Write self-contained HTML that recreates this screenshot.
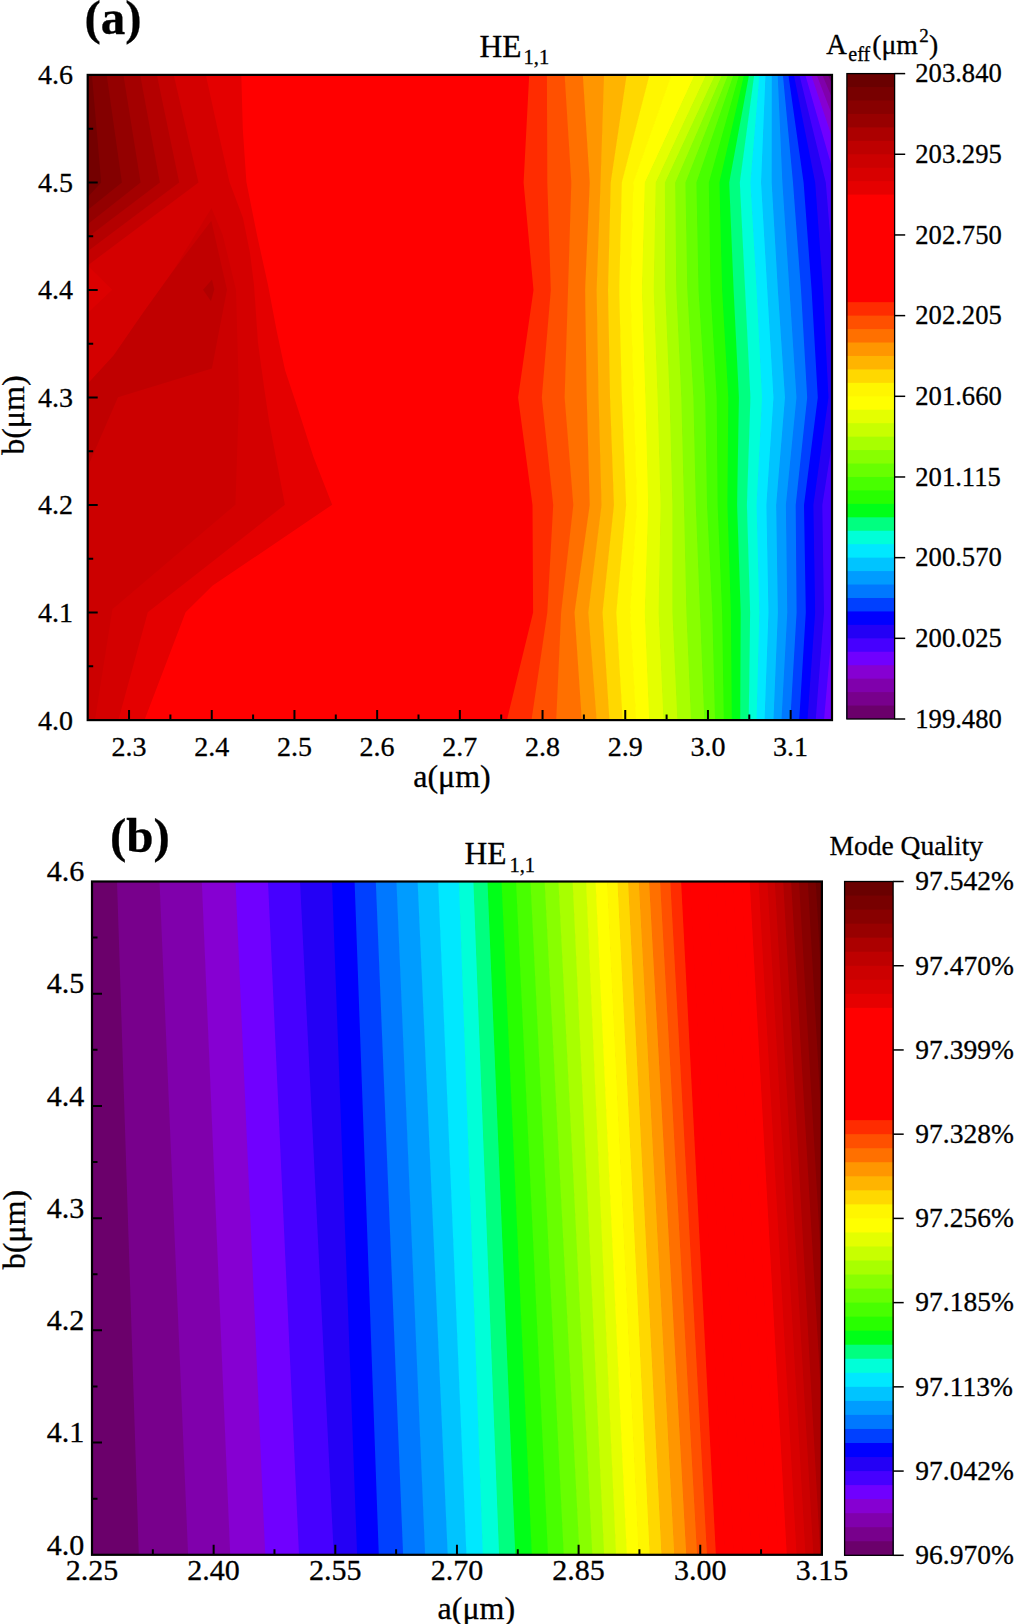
<!DOCTYPE html>
<html lang="en"><head><meta charset="utf-8"><title>HE1,1 contour plots</title>
<style>html,body{margin:0;padding:0;background:#fff}svg{display:block}text{stroke:#000;stroke-width:.3px}</style>
</head><body>
<svg width="1015" height="1624" viewBox="0 0 1015 1624" font-family='"Liberation Serif", "DejaVu Serif", serif' fill="#000">
<rect width="1015" height="1624" fill="#fff"/>
<g id="plotA">
<clipPath id="clipA"><rect x="87.7" y="74.9" width="744.3" height="645.2"/></clipPath>
<g clip-path="url(#clipA)">
<rect x="87.7" y="74.9" width="744.3" height="645.2" fill="#FF0000"/>
<polygon points="87.7,74.9 241.3,74.6 242.8,129.0 246.4,182.1 257.0,235.0 268.0,285.0 276.5,330.0 285.0,370.0 297.0,406.0 313.3,456.5 332.2,504.7 212.4,585.8 185.6,612.3 144.6,719.8 87.7,720.1" fill="#E40000"/>
<polygon points="87.7,74.9 205.8,74.6 217.6,129.0 229.5,182.1 243.0,218.0 250.0,253.0 254.0,285.0 258.0,343.0 264.0,386.7 269.2,421.9 284.9,504.7 147.8,612.3 118.5,719.8 87.7,720.1" fill="#D40000"/>
<polygon points="87.7,265.4 112.2,289.7 87.7,313.0" fill="#DC0000"/>
<polygon points="211.5,208.0 222.7,235.0 236.0,289.7 239.0,397.2 235.4,504.7 112.4,609.3 95.0,719.8 87.7,720.1 87.7,383.7 113.6,355.6 143.1,312.8 172.7,271.4" fill="#CC0000"/>
<polygon points="211.3,220.7 227.0,289.7 211.9,368.5 118.0,397.2 99.2,440.6 87.7,467.0 87.7,383.7 113.6,355.6 143.1,312.8 172.7,271.4" fill="#C00000"/>
<polygon points="203.0,289.7 212.0,279.5 214.3,289.2 211.0,301.3" fill="#B00000"/>
<polygon points="87.7,74.9 173.7,74.9 198.5,182.4 87.7,265.4" fill="#C40000"/>
<polygon points="87.7,74.9 156.9,74.9 179.2,182.4 87.7,251.3" fill="#B40000"/>
<polygon points="87.7,74.9 140.2,74.9 159.9,182.4 87.7,237.2" fill="#A40000"/>
<polygon points="87.7,74.9 123.4,74.9 140.6,182.4 87.7,224.2" fill="#940000"/>
<polygon points="87.7,74.9 106.7,74.9 121.9,182.4 87.7,210.1" fill="#840000"/>
<polygon points="87.7,74.9 91.9,74.9 101.2,182.4 87.7,197.0" fill="#740000"/>
<polygon points="529.2,74.9 523.6,182.4 533.5,290.0 518.1,397.5 532.5,505.0 533.1,612.6 506.9,720.1 532.2,720.1 548.0,612.6 553.9,505.0 542.5,397.5 551.5,290.0 548.0,182.4 547.6,74.9" fill="#FF2C00"/>
<polygon points="546.9,74.9 547.3,182.4 550.8,290.0 541.8,397.5 553.2,505.0 547.3,612.6 531.5,720.1 556.9,720.1 561.8,612.6 574.0,505.0 565.3,397.5 568.7,290.0 572.0,182.4 565.3,74.9" fill="#FF5000"/>
<polygon points="564.6,74.9 571.3,182.4 568.0,290.0 564.6,397.5 573.3,505.0 561.1,612.6 556.2,720.1 582.5,720.1 575.2,612.6 590.4,505.0 587.4,397.5 585.8,290.0 590.4,182.4 583.5,74.9" fill="#FF7000"/>
<polygon points="582.8,74.9 589.7,182.4 585.1,290.0 586.7,397.5 589.7,505.0 574.5,612.6 581.8,720.1 597.3,720.1 589.0,612.6 602.2,505.0 599.2,397.5 597.3,290.0 601.2,182.4 604.7,74.9" fill="#FF9600"/>
<polygon points="604.0,74.9 600.5,182.4 596.6,290.0 598.5,397.5 601.5,505.0 588.3,612.6 596.6,720.1 610.1,720.1 603.2,612.6 614.6,505.0 610.7,397.5 608.7,290.0 611.4,182.4 627.3,74.9" fill="#FFB400"/>
<polygon points="626.6,74.9 610.7,182.4 608.0,290.0 610.0,397.5 613.9,505.0 602.5,612.6 609.4,720.1 623.3,720.1 617.0,612.6 626.8,505.0 622.5,397.5 619.9,290.0 622.5,182.4 650.1,74.9" fill="#FFD800"/>
<polygon points="649.4,74.9 621.8,182.4 619.2,290.0 621.8,397.5 626.1,505.0 616.3,612.6 622.6,720.1 636.7,720.1 630.7,612.6 637.6,505.0 634.3,397.5 631.1,290.0 634.0,182.4 672.1,74.9" fill="#FFF600"/>
<polygon points="671.4,74.9 633.3,182.4 630.4,290.0 633.6,397.5 636.9,505.0 630.0,612.6 636.0,720.1 649.9,720.1 645.5,612.6 648.9,505.0 646.1,397.5 642.6,290.0 645.5,182.4 695.2,74.9" fill="#FFFF00"/>
<polygon points="694.5,74.9 644.8,182.4 641.9,290.0 645.4,397.5 648.2,505.0 644.8,612.6 649.2,720.1 664.2,720.1 659.3,612.6 661.3,505.0 658.3,397.5 654.4,290.0 656.4,182.4 706.7,74.9" fill="#E4FF00"/>
<polygon points="706.0,74.9 655.7,182.4 653.7,290.0 657.6,397.5 660.6,505.0 658.6,612.6 663.5,720.1 678.1,720.1 673.1,612.6 673.1,505.0 670.3,397.5 665.9,290.0 665.6,182.4 715.7,74.9" fill="#C8FF00"/>
<polygon points="715.0,74.9 664.9,182.4 665.2,290.0 669.6,397.5 672.4,505.0 672.4,612.6 677.4,720.1 691.7,720.1 687.1,612.6 684.7,505.0 682.0,397.5 677.0,290.0 675.9,182.4 722.7,74.9" fill="#A8FF00"/>
<polygon points="722.0,74.9 675.2,182.4 676.3,290.0 681.3,397.5 684.0,505.0 686.4,612.6 691.0,720.1 705.0,720.1 700.7,612.6 696.5,505.0 694.1,397.5 688.0,290.0 686.1,182.4 728.7,74.9" fill="#88FF00"/>
<polygon points="728.0,74.9 685.4,182.4 687.3,290.0 693.4,397.5 695.8,505.0 700.0,612.6 704.3,720.1 715.7,720.1 713.0,612.6 707.7,505.0 705.9,397.5 699.2,290.0 697.1,182.4 734.2,74.9" fill="#68FF00"/>
<polygon points="733.5,74.9 696.4,182.4 698.5,290.0 705.2,397.5 707.0,505.0 712.3,612.6 715.0,720.1 724.5,720.1 722.8,612.6 718.3,505.0 717.4,397.5 711.2,290.0 709.5,182.4 739.7,74.9" fill="#48FF00"/>
<polygon points="739.0,74.9 708.8,182.4 710.5,290.0 716.7,397.5 717.6,505.0 722.1,612.6 723.8,720.1 732.5,720.1 731.6,612.6 728.1,505.0 729.0,397.5 722.8,290.0 720.1,182.4 744.7,74.9" fill="#28FF00"/>
<polygon points="744.0,74.9 719.4,182.4 722.1,290.0 728.3,397.5 727.4,505.0 730.9,612.6 731.8,720.1 740.9,720.1 741.4,612.6 737.8,505.0 739.6,397.5 734.3,290.0 729.9,182.4 749.7,74.9" fill="#00FF18"/>
<polygon points="749.0,74.9 729.2,182.4 733.6,290.0 738.9,397.5 737.1,505.0 740.7,612.6 740.2,720.1 749.4,720.1 750.8,612.6 747.6,505.0 751.1,397.5 745.8,290.0 740.5,182.4 754.9,74.9" fill="#00FF80"/>
<polygon points="754.2,74.9 739.8,182.4 745.1,290.0 750.4,397.5 746.9,505.0 750.1,612.6 748.7,720.1 757.3,720.1 760.0,612.6 757.3,505.0 762.7,397.5 757.3,290.0 751.1,182.4 760.1,74.9" fill="#00FFD8"/>
<polygon points="759.4,74.9 750.4,182.4 756.6,290.0 762.0,397.5 756.6,505.0 759.3,612.6 756.6,720.1 765.3,720.1 769.2,612.6 767.1,505.0 774.2,397.5 768.0,290.0 761.8,182.4 766.2,74.9" fill="#00E8FF"/>
<polygon points="765.5,74.9 761.1,182.4 767.3,290.0 773.5,397.5 766.4,505.0 768.5,612.6 764.6,720.1 774.2,720.1 778.6,612.6 776.9,505.0 785.7,397.5 778.6,290.0 772.4,182.4 772.5,74.9" fill="#00C4FF"/>
<polygon points="771.8,74.9 771.7,182.4 777.9,290.0 785.0,397.5 776.2,505.0 777.9,612.6 773.5,720.1 782.2,720.1 788.0,612.6 786.6,505.0 797.2,397.5 790.2,290.0 783.1,182.4 778.4,74.9" fill="#009CFF"/>
<polygon points="777.7,74.9 782.4,182.4 789.5,290.0 796.5,397.5 785.9,505.0 787.3,612.6 781.5,720.1 791.0,720.1 797.3,612.6 796.4,505.0 807.9,397.5 801.7,290.0 793.7,182.4 783.6,74.9" fill="#0078FF"/>
<polygon points="782.9,74.9 793.0,182.4 801.0,290.0 807.2,397.5 795.7,505.0 796.6,612.6 790.3,720.1 799.9,720.1 806.5,612.6 804.7,505.0 818.5,397.5 812.3,290.0 804.3,182.4 789.1,74.9" fill="#0040FF"/>
<polygon points="788.4,74.9 803.6,182.4 811.6,290.0 817.8,397.5 804.0,505.0 805.8,612.6 799.2,720.1 808.2,720.1 815.9,612.6 814.1,505.0 829.2,397.5 823.8,290.0 815.9,182.4 794.6,74.9" fill="#0000FF"/>
<polygon points="793.9,74.9 815.2,182.4 823.1,290.0 828.5,397.5 813.4,505.0 815.2,612.6 807.5,720.1 816.4,720.1 824.7,612.6 823.0,505.0 839.9,397.5 835.3,290.0 826.5,182.4 800.1,74.9" fill="#2400F5"/>
<polygon points="799.4,74.9 825.8,182.4 834.6,290.0 839.2,397.5 822.3,505.0 824.0,612.6 815.7,720.1 824.7,720.1 834.2,612.6 833.2,505.0 850.7,397.5 846.7,290.0 837.0,182.4 806.0,74.9" fill="#4600FF"/>
<polygon points="805.3,74.9 836.3,182.4 846.0,290.0 850.0,397.5 832.5,505.0 833.5,612.6 824.0,720.1 833.3,720.1 843.7,612.6 842.7,505.0 861.7,397.5 857.7,290.0 847.7,182.4 811.9,74.9" fill="#7000FF"/>
<polygon points="811.2,74.9 847.0,182.4 857.0,290.0 861.0,397.5 842.0,505.0 843.0,612.6 832.6,720.1 841.7,720.1 853.7,612.6 852.7,505.0 872.7,397.5 868.7,290.0 858.7,182.4 817.4,74.9" fill="#8600D2"/>
<polygon points="816.7,74.9 858.0,182.4 868.0,290.0 872.0,397.5 852.0,505.0 853.0,612.6 841.0,720.1 850.7,720.1 863.7,612.6 862.7,505.0 883.7,397.5 879.7,290.0 868.7,182.4 823.0,74.9" fill="#8000AC"/>
<polygon points="822.3,74.9 868.0,182.4 879.0,290.0 883.0,397.5 862.0,505.0 863.0,612.6 850.0,720.1 859.7,720.1 873.7,612.6 872.7,505.0 894.7,397.5 890.7,290.0 879.7,182.4 828.5,74.9" fill="#78008C"/>
<polygon points="827.8,74.9 879.0,182.4 890.0,290.0 894.0,397.5 872.0,505.0 873.0,612.6 859.0,720.1 912.7,720.1 912.7,612.6 912.7,505.0 912.7,397.5 912.7,290.0 912.7,182.4 912.7,74.9" fill="#6B006B"/>
</g>
</g>
<rect x="87.7" y="74.9" width="744.3" height="645.2" fill="none" stroke="#000" stroke-width="2.2"/>
<path d="M129.05 720.1v-10M211.75 720.1v-10M294.45 720.1v-10M377.15 720.1v-10M459.85 720.1v-10M542.55 720.1v-10M625.25 720.1v-10M707.95 720.1v-10M790.65 720.1v-10M170.40 720.1v-5.5M253.10 720.1v-5.5M335.80 720.1v-5.5M418.50 720.1v-5.5M501.20 720.1v-5.5M583.90 720.1v-5.5M666.60 720.1v-5.5M749.30 720.1v-5.5M87.7 612.57h10M87.7 505.03h10M87.7 397.50h10M87.7 289.97h10M87.7 182.43h10M87.7 666.33h5.5M87.7 558.80h5.5M87.7 451.27h5.5M87.7 343.73h5.5M87.7 236.20h5.5M87.7 128.67h5.5" stroke="#000" stroke-width="2" fill="none"/>
<text x="129.0" y="755.7" font-size="28" text-anchor="middle" font-weight="normal" >2.3</text>
<text x="211.7" y="755.7" font-size="28" text-anchor="middle" font-weight="normal" >2.4</text>
<text x="294.4" y="755.7" font-size="28" text-anchor="middle" font-weight="normal" >2.5</text>
<text x="377.1" y="755.7" font-size="28" text-anchor="middle" font-weight="normal" >2.6</text>
<text x="459.8" y="755.7" font-size="28" text-anchor="middle" font-weight="normal" >2.7</text>
<text x="542.5" y="755.7" font-size="28" text-anchor="middle" font-weight="normal" >2.8</text>
<text x="625.2" y="755.7" font-size="28" text-anchor="middle" font-weight="normal" >2.9</text>
<text x="707.9" y="755.7" font-size="28" text-anchor="middle" font-weight="normal" >3.0</text>
<text x="790.6" y="755.7" font-size="28" text-anchor="middle" font-weight="normal" >3.1</text>
<text x="73.0" y="729.5" font-size="28" text-anchor="end" font-weight="normal" >4.0</text>
<text x="73.0" y="622.0" font-size="28" text-anchor="end" font-weight="normal" >4.1</text>
<text x="73.0" y="514.4" font-size="28" text-anchor="end" font-weight="normal" >4.2</text>
<text x="73.0" y="406.9" font-size="28" text-anchor="end" font-weight="normal" >4.3</text>
<text x="73.0" y="299.4" font-size="28" text-anchor="end" font-weight="normal" >4.4</text>
<text x="73.0" y="191.8" font-size="28" text-anchor="end" font-weight="normal" >4.5</text>
<text x="73.0" y="84.3" font-size="28" text-anchor="end" font-weight="normal" >4.6</text>
<rect x="846.9" y="73.60" width="47.700000000000045" height="645.40" fill="#6A0000"/>
<rect x="846.9" y="87.05" width="47.700000000000045" height="631.95" fill="#780000"/>
<rect x="846.9" y="100.49" width="47.700000000000045" height="618.51" fill="#880000"/>
<rect x="846.9" y="113.94" width="47.700000000000045" height="605.06" fill="#980000"/>
<rect x="846.9" y="127.38" width="47.700000000000045" height="591.62" fill="#AC0000"/>
<rect x="846.9" y="140.83" width="47.700000000000045" height="578.17" fill="#BE0000"/>
<rect x="846.9" y="154.27" width="47.700000000000045" height="564.73" fill="#CC0000"/>
<rect x="846.9" y="167.72" width="47.700000000000045" height="551.28" fill="#D80000"/>
<rect x="846.9" y="181.17" width="47.700000000000045" height="537.83" fill="#E60000"/>
<rect x="846.9" y="194.61" width="47.700000000000045" height="524.39" fill="#FF0000"/>
<rect x="846.9" y="208.06" width="47.700000000000045" height="510.94" fill="#FF0000"/>
<rect x="846.9" y="221.50" width="47.700000000000045" height="497.50" fill="#FF0000"/>
<rect x="846.9" y="234.95" width="47.700000000000045" height="484.05" fill="#FF0000"/>
<rect x="846.9" y="248.40" width="47.700000000000045" height="470.60" fill="#FF0000"/>
<rect x="846.9" y="261.84" width="47.700000000000045" height="457.16" fill="#FF0000"/>
<rect x="846.9" y="275.29" width="47.700000000000045" height="443.71" fill="#FF0000"/>
<rect x="846.9" y="288.73" width="47.700000000000045" height="430.27" fill="#FF0000"/>
<rect x="846.9" y="302.18" width="47.700000000000045" height="416.82" fill="#FF2C00"/>
<rect x="846.9" y="315.62" width="47.700000000000045" height="403.38" fill="#FF5000"/>
<rect x="846.9" y="329.07" width="47.700000000000045" height="389.93" fill="#FF7000"/>
<rect x="846.9" y="342.52" width="47.700000000000045" height="376.48" fill="#FF9600"/>
<rect x="846.9" y="355.96" width="47.700000000000045" height="363.04" fill="#FFB400"/>
<rect x="846.9" y="369.41" width="47.700000000000045" height="349.59" fill="#FFD800"/>
<rect x="846.9" y="382.85" width="47.700000000000045" height="336.15" fill="#FFF600"/>
<rect x="846.9" y="396.30" width="47.700000000000045" height="322.70" fill="#FFFF00"/>
<rect x="846.9" y="409.75" width="47.700000000000045" height="309.25" fill="#E4FF00"/>
<rect x="846.9" y="423.19" width="47.700000000000045" height="295.81" fill="#C8FF00"/>
<rect x="846.9" y="436.64" width="47.700000000000045" height="282.36" fill="#A8FF00"/>
<rect x="846.9" y="450.08" width="47.700000000000045" height="268.92" fill="#88FF00"/>
<rect x="846.9" y="463.53" width="47.700000000000045" height="255.47" fill="#68FF00"/>
<rect x="846.9" y="476.98" width="47.700000000000045" height="242.02" fill="#48FF00"/>
<rect x="846.9" y="490.42" width="47.700000000000045" height="228.58" fill="#28FF00"/>
<rect x="846.9" y="503.87" width="47.700000000000045" height="215.13" fill="#00FF18"/>
<rect x="846.9" y="517.31" width="47.700000000000045" height="201.69" fill="#00FF80"/>
<rect x="846.9" y="530.76" width="47.700000000000045" height="188.24" fill="#00FFD8"/>
<rect x="846.9" y="544.20" width="47.700000000000045" height="174.80" fill="#00E8FF"/>
<rect x="846.9" y="557.65" width="47.700000000000045" height="161.35" fill="#00C4FF"/>
<rect x="846.9" y="571.10" width="47.700000000000045" height="147.90" fill="#009CFF"/>
<rect x="846.9" y="584.54" width="47.700000000000045" height="134.46" fill="#0078FF"/>
<rect x="846.9" y="597.99" width="47.700000000000045" height="121.01" fill="#0040FF"/>
<rect x="846.9" y="611.43" width="47.700000000000045" height="107.57" fill="#0000FF"/>
<rect x="846.9" y="624.88" width="47.700000000000045" height="94.12" fill="#2400F5"/>
<rect x="846.9" y="638.33" width="47.700000000000045" height="80.67" fill="#4600FF"/>
<rect x="846.9" y="651.77" width="47.700000000000045" height="67.23" fill="#7000FF"/>
<rect x="846.9" y="665.22" width="47.700000000000045" height="53.78" fill="#8600D2"/>
<rect x="846.9" y="678.66" width="47.700000000000045" height="40.34" fill="#8000AC"/>
<rect x="846.9" y="692.11" width="47.700000000000045" height="26.89" fill="#78008C"/>
<rect x="846.9" y="705.55" width="47.700000000000045" height="13.45" fill="#6B006B"/>
<rect x="846.9" y="73.6" width="47.700000000000045" height="645.4" stroke="#000" stroke-width="1.3" fill="none"/>
<path d="M894.6 73.60h10.6" stroke="#000" stroke-width="1.5"/>
<text x="915.3" y="82.4" font-size="26.6" text-anchor="start" font-weight="normal" >203.840</text>
<path d="M894.6 154.27h10.6" stroke="#000" stroke-width="1.5"/>
<text x="915.3" y="163.1" font-size="26.6" text-anchor="start" font-weight="normal" >203.295</text>
<path d="M894.6 234.95h10.6" stroke="#000" stroke-width="1.5"/>
<text x="915.3" y="243.8" font-size="26.6" text-anchor="start" font-weight="normal" >202.750</text>
<path d="M894.6 315.62h10.6" stroke="#000" stroke-width="1.5"/>
<text x="915.3" y="324.4" font-size="26.6" text-anchor="start" font-weight="normal" >202.205</text>
<path d="M894.6 396.30h10.6" stroke="#000" stroke-width="1.5"/>
<text x="915.3" y="405.1" font-size="26.6" text-anchor="start" font-weight="normal" >201.660</text>
<path d="M894.6 476.98h10.6" stroke="#000" stroke-width="1.5"/>
<text x="915.3" y="485.8" font-size="26.6" text-anchor="start" font-weight="normal" >201.115</text>
<path d="M894.6 557.65h10.6" stroke="#000" stroke-width="1.5"/>
<text x="915.3" y="566.4" font-size="26.6" text-anchor="start" font-weight="normal" >200.570</text>
<path d="M894.6 638.33h10.6" stroke="#000" stroke-width="1.5"/>
<text x="915.3" y="647.1" font-size="26.6" text-anchor="start" font-weight="normal" >200.025</text>
<path d="M894.6 719.00h10.6" stroke="#000" stroke-width="1.5"/>
<text x="915.3" y="727.8" font-size="26.6" text-anchor="start" font-weight="normal" >199.480</text>
<text x="84.5" y="33.5" font-size="49" text-anchor="start" font-weight="bold" >(a)</text>
<text x="479.6" y="56.5" font-size="31.5" text-anchor="start" font-weight="normal" >HE</text>
<text x="523.6" y="64.3" font-size="20.5" text-anchor="start" font-weight="normal" >1,1</text>
<text x="826.3" y="53.8" font-size="28.5" text-anchor="start" font-weight="normal" >A</text>
<text x="848.3" y="61.4" font-size="20" text-anchor="start" font-weight="normal" >eff</text>
<text x="872.2" y="53.8" font-size="27.8" text-anchor="start" font-weight="normal" >(μm</text>
<text x="919.3" y="42.0" font-size="19" text-anchor="start" font-weight="normal" >2</text>
<text x="929.0" y="53.8" font-size="27.8" text-anchor="start" font-weight="normal" >)</text>
<text x="413.2" y="786.8" font-size="32" text-anchor="start" font-weight="normal" >a(μm)</text>
<text transform="translate(23.6,454.8) rotate(-90)" font-size="32">b(μm)</text>
<g id="plotB">
<clipPath id="clipB"><rect x="92.0" y="881.5" width="729.9" height="673.3"/></clipPath>
<g clip-path="url(#clipB)">
<rect x="92.0" y="881.5" width="729.9" height="673.3" fill="#6B006B"/>
<polygon points="117.0,881.5 160.2,881.5 188.8,1554.8 138.8,1554.8" fill="#78008C"/>
<polygon points="159.5,881.5 202.4,881.5 230.9,1554.8 188.1,1554.8" fill="#8000AC"/>
<polygon points="201.8,881.5 236.2,881.5 265.9,1554.8 230.2,1554.8" fill="#8600D2"/>
<polygon points="235.5,881.5 268.7,881.5 299.7,1554.8 265.2,1554.8" fill="#7000FF"/>
<polygon points="268.0,881.5 300.7,881.5 334.5,1554.8 299.0,1554.8" fill="#4600FF"/>
<polygon points="300.0,881.5 332.7,881.5 357.8,1554.8 333.8,1554.8" fill="#2400F5"/>
<polygon points="332.0,881.5 355.3,881.5 379.5,1554.8 357.1,1554.8" fill="#0000FF"/>
<polygon points="354.6,881.5 376.5,881.5 403.8,1554.8 378.8,1554.8" fill="#0040FF"/>
<polygon points="375.8,881.5 397.1,881.5 425.8,1554.8 403.1,1554.8" fill="#0078FF"/>
<polygon points="396.4,881.5 418.3,881.5 448.4,1554.8 425.1,1554.8" fill="#009CFF"/>
<polygon points="417.6,881.5 438.8,881.5 467.1,1554.8 447.7,1554.8" fill="#00C4FF"/>
<polygon points="438.1,881.5 459.6,881.5 483.5,1554.8 466.4,1554.8" fill="#00E8FF"/>
<polygon points="458.9,881.5 474.1,881.5 499.8,1554.8 482.8,1554.8" fill="#00FFD8"/>
<polygon points="473.4,881.5 488.2,881.5 516.0,1554.8 499.1,1554.8" fill="#00FF80"/>
<polygon points="487.5,881.5 502.2,881.5 532.5,1554.8 515.3,1554.8" fill="#00FF18"/>
<polygon points="501.5,881.5 516.7,881.5 548.7,1554.8 531.8,1554.8" fill="#28FF00"/>
<polygon points="516.0,881.5 531.1,881.5 564.4,1554.8 548.0,1554.8" fill="#48FF00"/>
<polygon points="530.4,881.5 545.3,881.5 580.2,1554.8 563.7,1554.8" fill="#68FF00"/>
<polygon points="544.6,881.5 559.1,881.5 593.0,1554.8 579.5,1554.8" fill="#88FF00"/>
<polygon points="558.4,881.5 573.3,881.5 604.8,1554.8 592.3,1554.8" fill="#A8FF00"/>
<polygon points="572.6,881.5 586.7,881.5 616.7,1554.8 604.1,1554.8" fill="#C8FF00"/>
<polygon points="586.0,881.5 596.2,881.5 627.5,1554.8 616.0,1554.8" fill="#E4FF00"/>
<polygon points="595.5,881.5 607.7,881.5 639.3,1554.8 626.8,1554.8" fill="#FFFF00"/>
<polygon points="607.0,881.5 618.2,881.5 650.4,1554.8 638.6,1554.8" fill="#FFF600"/>
<polygon points="617.5,881.5 628.8,881.5 662.2,1554.8 649.7,1554.8" fill="#FFD800"/>
<polygon points="628.1,881.5 639.5,881.5 675.0,1554.8 661.5,1554.8" fill="#FFB400"/>
<polygon points="638.8,881.5 649.8,881.5 687.0,1554.8 674.3,1554.8" fill="#FF9600"/>
<polygon points="649.1,881.5 660.8,881.5 697.8,1554.8 686.3,1554.8" fill="#FF7000"/>
<polygon points="660.1,881.5 671.0,881.5 707.7,1554.8 697.1,1554.8" fill="#FF5000"/>
<polygon points="670.3,881.5 681.8,881.5 716.6,1554.8 707.0,1554.8" fill="#FF2C00"/>
<polygon points="681.1,881.5 690.4,881.5 725.5,1554.8 715.9,1554.8" fill="#FF0000"/>
<polygon points="689.7,881.5 699.0,881.5 734.3,1554.8 724.8,1554.8" fill="#FF0000"/>
<polygon points="698.2,881.5 707.5,881.5 743.2,1554.8 733.6,1554.8" fill="#FF0000"/>
<polygon points="706.8,881.5 716.1,881.5 752.0,1554.8 742.5,1554.8" fill="#FF0000"/>
<polygon points="715.4,881.5 724.7,881.5 760.9,1554.8 751.3,1554.8" fill="#FF0000"/>
<polygon points="724.0,881.5 733.3,881.5 769.8,1554.8 760.2,1554.8" fill="#FF0000"/>
<polygon points="732.6,881.5 741.8,881.5 778.6,1554.8 769.1,1554.8" fill="#FF0000"/>
<polygon points="741.1,881.5 750.4,881.5 787.5,1554.8 777.9,1554.8" fill="#FF0000"/>
<polygon points="749.7,881.5 759.3,881.5 797.3,1554.8 786.8,1554.8" fill="#E60000"/>
<polygon points="758.6,881.5 768.1,881.5 806.2,1554.8 796.6,1554.8" fill="#D80000"/>
<polygon points="767.4,881.5 775.5,881.5 814.1,1554.8 805.5,1554.8" fill="#CC0000"/>
<polygon points="774.8,881.5 783.9,881.5 821.0,1554.8 813.4,1554.8" fill="#BE0000"/>
<polygon points="783.2,881.5 791.8,881.5 831.0,1554.8 820.3,1554.8" fill="#AC0000"/>
<polygon points="791.1,881.5 799.7,881.5 838.7,1554.8 830.3,1554.8" fill="#980000"/>
<polygon points="799.0,881.5 808.5,881.5 846.7,1554.8 838.0,1554.8" fill="#880000"/>
<polygon points="807.8,881.5 816.4,881.5 854.7,1554.8 846.0,1554.8" fill="#780000"/>
<polygon points="815.7,881.5 902.6,881.5 902.6,1554.8 854.0,1554.8" fill="#6A0000"/>
</g>
</g>
<rect x="92.0" y="881.5" width="729.9" height="673.3" fill="none" stroke="#000" stroke-width="2.2"/>
<path d="M213.65 1554.8v-10M335.30 1554.8v-10M456.95 1554.8v-10M578.60 1554.8v-10M700.25 1554.8v-10M152.83 1554.8v-5.5M274.48 1554.8v-5.5M396.12 1554.8v-5.5M517.78 1554.8v-5.5M639.43 1554.8v-5.5M761.08 1554.8v-5.5M92.0 1442.58h10M92.0 1330.37h10M92.0 1218.15h10M92.0 1105.93h10M92.0 993.72h10M92.0 1498.69h5.5M92.0 1386.48h5.5M92.0 1274.26h5.5M92.0 1162.04h5.5M92.0 1049.82h5.5M92.0 937.61h5.5" stroke="#000" stroke-width="2" fill="none"/>
<text x="92.0" y="1580.2" font-size="30" text-anchor="middle" font-weight="normal" >2.25</text>
<text x="213.6" y="1580.2" font-size="30" text-anchor="middle" font-weight="normal" >2.40</text>
<text x="335.3" y="1580.2" font-size="30" text-anchor="middle" font-weight="normal" >2.55</text>
<text x="457.0" y="1580.2" font-size="30" text-anchor="middle" font-weight="normal" >2.70</text>
<text x="578.6" y="1580.2" font-size="30" text-anchor="middle" font-weight="normal" >2.85</text>
<text x="700.2" y="1580.2" font-size="30" text-anchor="middle" font-weight="normal" >3.00</text>
<text x="821.9" y="1580.2" font-size="30" text-anchor="middle" font-weight="normal" >3.15</text>
<text x="84.2" y="1554.5" font-size="30" text-anchor="end" font-weight="normal" >4.0</text>
<text x="84.2" y="1442.3" font-size="30" text-anchor="end" font-weight="normal" >4.1</text>
<text x="84.2" y="1330.1" font-size="30" text-anchor="end" font-weight="normal" >4.2</text>
<text x="84.2" y="1217.9" font-size="30" text-anchor="end" font-weight="normal" >4.3</text>
<text x="84.2" y="1105.6" font-size="30" text-anchor="end" font-weight="normal" >4.4</text>
<text x="84.2" y="993.4" font-size="30" text-anchor="end" font-weight="normal" >4.5</text>
<text x="84.2" y="881.2" font-size="30" text-anchor="end" font-weight="normal" >4.6</text>
<rect x="844.6" y="881.50" width="48.5" height="673.80" fill="#6A0000"/>
<rect x="844.6" y="895.54" width="48.5" height="659.76" fill="#780000"/>
<rect x="844.6" y="909.57" width="48.5" height="645.73" fill="#880000"/>
<rect x="844.6" y="923.61" width="48.5" height="631.69" fill="#980000"/>
<rect x="844.6" y="937.65" width="48.5" height="617.65" fill="#AC0000"/>
<rect x="844.6" y="951.69" width="48.5" height="603.61" fill="#BE0000"/>
<rect x="844.6" y="965.73" width="48.5" height="589.57" fill="#CC0000"/>
<rect x="844.6" y="979.76" width="48.5" height="575.54" fill="#D80000"/>
<rect x="844.6" y="993.80" width="48.5" height="561.50" fill="#E60000"/>
<rect x="844.6" y="1007.84" width="48.5" height="547.46" fill="#FF0000"/>
<rect x="844.6" y="1021.88" width="48.5" height="533.42" fill="#FF0000"/>
<rect x="844.6" y="1035.91" width="48.5" height="519.39" fill="#FF0000"/>
<rect x="844.6" y="1049.95" width="48.5" height="505.35" fill="#FF0000"/>
<rect x="844.6" y="1063.99" width="48.5" height="491.31" fill="#FF0000"/>
<rect x="844.6" y="1078.03" width="48.5" height="477.27" fill="#FF0000"/>
<rect x="844.6" y="1092.06" width="48.5" height="463.24" fill="#FF0000"/>
<rect x="844.6" y="1106.10" width="48.5" height="449.20" fill="#FF0000"/>
<rect x="844.6" y="1120.14" width="48.5" height="435.16" fill="#FF2C00"/>
<rect x="844.6" y="1134.17" width="48.5" height="421.12" fill="#FF5000"/>
<rect x="844.6" y="1148.21" width="48.5" height="407.09" fill="#FF7000"/>
<rect x="844.6" y="1162.25" width="48.5" height="393.05" fill="#FF9600"/>
<rect x="844.6" y="1176.29" width="48.5" height="379.01" fill="#FFB400"/>
<rect x="844.6" y="1190.33" width="48.5" height="364.97" fill="#FFD800"/>
<rect x="844.6" y="1204.36" width="48.5" height="350.94" fill="#FFF600"/>
<rect x="844.6" y="1218.40" width="48.5" height="336.90" fill="#FFFF00"/>
<rect x="844.6" y="1232.44" width="48.5" height="322.86" fill="#E4FF00"/>
<rect x="844.6" y="1246.47" width="48.5" height="308.83" fill="#C8FF00"/>
<rect x="844.6" y="1260.51" width="48.5" height="294.79" fill="#A8FF00"/>
<rect x="844.6" y="1274.55" width="48.5" height="280.75" fill="#88FF00"/>
<rect x="844.6" y="1288.59" width="48.5" height="266.71" fill="#68FF00"/>
<rect x="844.6" y="1302.62" width="48.5" height="252.67" fill="#48FF00"/>
<rect x="844.6" y="1316.66" width="48.5" height="238.64" fill="#28FF00"/>
<rect x="844.6" y="1330.70" width="48.5" height="224.60" fill="#00FF18"/>
<rect x="844.6" y="1344.74" width="48.5" height="210.56" fill="#00FF80"/>
<rect x="844.6" y="1358.77" width="48.5" height="196.53" fill="#00FFD8"/>
<rect x="844.6" y="1372.81" width="48.5" height="182.49" fill="#00E8FF"/>
<rect x="844.6" y="1386.85" width="48.5" height="168.45" fill="#00C4FF"/>
<rect x="844.6" y="1400.89" width="48.5" height="154.41" fill="#009CFF"/>
<rect x="844.6" y="1414.92" width="48.5" height="140.38" fill="#0078FF"/>
<rect x="844.6" y="1428.96" width="48.5" height="126.34" fill="#0040FF"/>
<rect x="844.6" y="1443.00" width="48.5" height="112.30" fill="#0000FF"/>
<rect x="844.6" y="1457.04" width="48.5" height="98.26" fill="#2400F5"/>
<rect x="844.6" y="1471.08" width="48.5" height="84.22" fill="#4600FF"/>
<rect x="844.6" y="1485.11" width="48.5" height="70.19" fill="#7000FF"/>
<rect x="844.6" y="1499.15" width="48.5" height="56.15" fill="#8600D2"/>
<rect x="844.6" y="1513.19" width="48.5" height="42.11" fill="#8000AC"/>
<rect x="844.6" y="1527.22" width="48.5" height="28.08" fill="#78008C"/>
<rect x="844.6" y="1541.26" width="48.5" height="14.04" fill="#6B006B"/>
<rect x="844.6" y="881.5" width="48.5" height="673.8" stroke="#000" stroke-width="1.3" fill="none"/>
<path d="M893.1 881.50h10.6" stroke="#000" stroke-width="1.5"/>
<text x="915.3" y="890.3" font-size="27.5" text-anchor="start" font-weight="normal" >97.542%</text>
<path d="M893.1 965.73h10.6" stroke="#000" stroke-width="1.5"/>
<text x="915.3" y="974.5" font-size="27.5" text-anchor="start" font-weight="normal" >97.470%</text>
<path d="M893.1 1049.95h10.6" stroke="#000" stroke-width="1.5"/>
<text x="915.3" y="1058.8" font-size="27.5" text-anchor="start" font-weight="normal" >97.399%</text>
<path d="M893.1 1134.17h10.6" stroke="#000" stroke-width="1.5"/>
<text x="915.3" y="1143.0" font-size="27.5" text-anchor="start" font-weight="normal" >97.328%</text>
<path d="M893.1 1218.40h10.6" stroke="#000" stroke-width="1.5"/>
<text x="915.3" y="1227.2" font-size="27.5" text-anchor="start" font-weight="normal" >97.256%</text>
<path d="M893.1 1302.62h10.6" stroke="#000" stroke-width="1.5"/>
<text x="915.3" y="1311.4" font-size="27.5" text-anchor="start" font-weight="normal" >97.185%</text>
<path d="M893.1 1386.85h10.6" stroke="#000" stroke-width="1.5"/>
<text x="915.3" y="1395.6" font-size="27.5" text-anchor="start" font-weight="normal" >97.113%</text>
<path d="M893.1 1471.07h10.6" stroke="#000" stroke-width="1.5"/>
<text x="915.3" y="1479.9" font-size="27.5" text-anchor="start" font-weight="normal" >97.042%</text>
<path d="M893.1 1555.30h10.6" stroke="#000" stroke-width="1.5"/>
<text x="915.3" y="1564.1" font-size="27.5" text-anchor="start" font-weight="normal" >96.970%</text>
<text x="110" y="852" font-size="49" text-anchor="start" font-weight="bold" >(b)</text>
<text x="464.6" y="864.1" font-size="31.5" text-anchor="start" font-weight="normal" >HE</text>
<text x="509.4" y="872.4" font-size="20.5" text-anchor="start" font-weight="normal" >1,1</text>
<text x="829.5" y="854.7" font-size="27.5" text-anchor="start" font-weight="normal" >Mode Quality</text>
<text x="437.6" y="1619" font-size="32" text-anchor="start" font-weight="normal" >a(μm)</text>
<text transform="translate(25.4,1269.3) rotate(-90)" font-size="32">b(μm)</text>
</svg>
</body></html>
